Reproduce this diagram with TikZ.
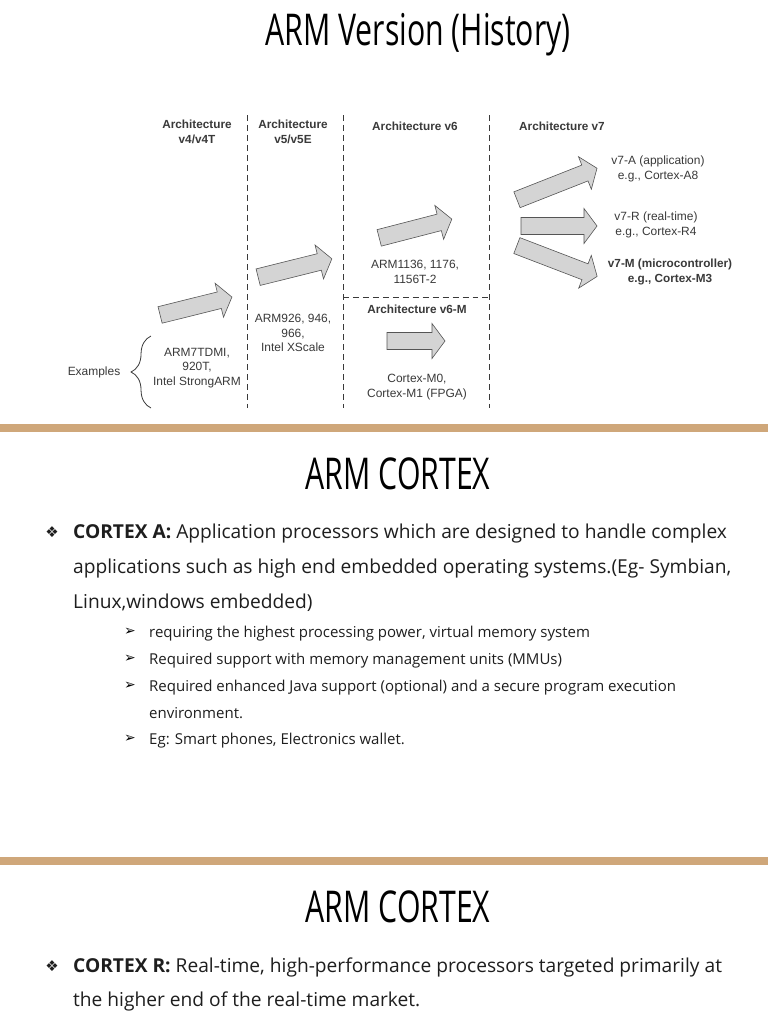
\documentclass[tikz,border=0pt]{standalone}
\usepackage{fontspec}
\setmainfont{Open Sans}
\newfontfamily\titlefont[FakeStretch=0.69]{Open Sans}
\newfontfamily\diagfont{Liberation Sans}
\newfontfamily\symfont{DejaVu Sans}
\usetikzlibrary{arrows.meta, positioning, calc, decorations.pathreplacing}
\definecolor{bartan}{HTML}{CFA77A}
\definecolor{diaggray}{HTML}{3A3A3A}
\definecolor{arrowfill}{HTML}{D4D4D4}
\definecolor{arrowborder}{HTML}{555555}
\definecolor{bodytext}{HTML}{1E1E1E}

% fat gray arrow: centre x, centre y, angle, length
\newcommand{\fatarrow}[4]{%
  \begin{scope}[shift={(#1,#2)}, rotate=#3]
    \draw[fatarr] (-#4/2,-8.5) -- (#4/2-13,-8.5) -- (#4/2-13,-17.5) -- (#4/2,0)
      -- (#4/2-13,17.5) -- (#4/2-13,8.5) -- (-#4/2,8.5) -- cycle;
  \end{scope}}

\begin{document}
\begin{tikzpicture}[
    x=1bp, y=-1bp,
    slidetitle/.style={font=\titlefont\fontsize{44}{48}\selectfont, text=black, inner sep=0pt},
    diaglabel/.style={font=\diagfont\fontsize{12}{14.5}\selectfont, text=diaggray, align=center, inner sep=0pt},
    diaghead/.style={diaglabel, font=\diagfont\bfseries\fontsize{11.8}{14.5}\selectfont},
    colsep/.style={draw=diaggray, line width=0.8pt, dash pattern=on 6pt off 4pt},
    fatarr/.style={draw=arrowborder, fill=arrowfill, line width=0.6pt, line join=miter},
    bodyline/.style={font=\fontsize{19.25}{22}\selectfont, text=bodytext, anchor=base west, inner sep=0pt},
    subline/.style={font=\fontsize{15.05}{18}\selectfont, text=bodytext, anchor=base west, inner sep=0pt},
    bulletmark/.style={font=\symfont\fontsize{15}{16}\selectfont, text=bodytext, inner sep=0pt},
    submark/.style={font=\symfont\fontsize{14}{16}\selectfont, text=black, inner sep=0pt}
  ]
  \useasboundingbox[fill=white] (0,0) rectangle (768,1024);

  % slide 1
  \node[slidetitle] (histtitle) at (418,35) {ARM Version (History)};

  \draw[colsep] (247,115) -- (247,408);
  \draw[colsep] (343,115) -- (343,408);
  \draw[colsep] (489,115) -- (489,408);
  \draw[colsep] (343,297) -- (489,297);

  \node[diaghead] (headfour) at (197,132) {Architecture\\v4/v4T};
  \node[diaghead] (headfive) at (293,132) {Architecture\\v5/v5E};
  \node[diaghead] (headsix) at (415,126) {Architecture v6};
  \node[diaghead] (headseven) at (562,126) {Architecture v7};
  \node[diaghead] (headsixm) at (417,309) {Architecture v6-M};

  \fatarrow{196}{306}{14}{74}
  \fatarrow{295}{268}{14}{76}
  \fatarrow{415.5}{228.5}{14.5}{75}
  \fatarrow{416}{341}{0}{58}
  \fatarrow{557}{184}{21.5}{86}
  \fatarrow{559}{226}{0}{76}
  \fatarrow{557}{261}{-21}{86}

  \node[diaglabel] (cpufour) at (197,368) {ARM7TDMI,\\920T,\\Intel StrongARM};
  \node[diaglabel] (cpufive) at (293,333) {ARM926, 946,\\966,\\Intel XScale};
  \node[diaglabel] (cpusix) at (415,272) {ARM1136, 1176,\\1156T-2};
  \node[diaglabel] (cpusixm) at (417,387) {Cortex-M0,\\Cortex-M1 (FPGA)};
  \node[diaglabel] (seva) at (658,169) {v7-A (application)\\e.g., Cortex-A8};
  \node[diaglabel] (sevr) at (656,225) {v7-R (real-time)\\e.g., Cortex-R4};
  \node[diaghead] (sevm) at (670,272) {v7-M (microcontroller)\\e.g., Cortex-M3};
  \node[diaglabel] (examples) at (94,372) {Examples};

  \draw[diaggray, line width=0.8pt, decorate,
    decoration={brace, amplitude=20pt}] (151,408) -- (151,336);

  \fill[bartan] (0,424) rectangle (768,432);

  % slide 2
  \node[slidetitle] (cortextitle) at (398,474) {ARM CORTEX};
  \node[bulletmark] (bulleta) at (52,532) {❖};
  \node[bodyline] (linea) at (73,538) {\textbf{CORTEX A:} Application processors which are designed to handle complex};
  \node[bodyline] (lineb) at (73,573) {applications such as high end embedded operating systems.(Eg- Symbian,};
  \node[bodyline] (linec) at (73,608) {Linux,windows embedded)};

  \node[submark] (subone) at (130,632) {➢};
  \node[subline] (textone) at (149,637) {requiring the highest processing power, virtual memory system};
  \node[submark] (subtwo) at (130,659) {➢};
  \node[subline] (texttwo) at (149,664) {Required support with memory management units (MMUs)};
  \node[submark] (subthree) at (130,686) {➢};
  \node[subline] (textthree) at (149,691) {Required enhanced Java support (optional) and a secure program execution};
  \node[subline] (textfour) at (149,718) {environment.};
  \node[submark] (subfour) at (130,739) {➢};
  \node[subline] (textfive) at (149,744) {Eg: Smart phones, Electronics wallet.};

  \fill[bartan] (0,857) rectangle (768,865);

  % slide 3
  \node[slidetitle] (cortextitletwo) at (398,907) {ARM CORTEX};
  \node[bulletmark] (bulletr) at (52,966) {❖};
  \node[bodyline] (liner) at (73,972) {\textbf{CORTEX R:} Real-time, high-performance processors targeted primarily at};
  \node[bodyline] (lines) at (73,1006) {the higher end of the real-time market.};
\end{tikzpicture}
\end{document}
